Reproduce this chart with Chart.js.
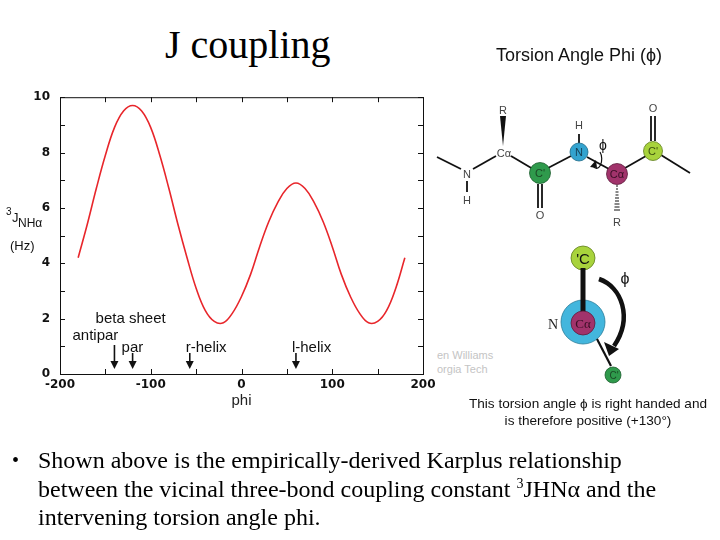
<!DOCTYPE html>
<html>
<head>
<meta charset="utf-8">
<script src="https://cdn.jsdelivr.net/npm/chart.js@4.4.1/dist/chart.umd.min.js"></script>
<style>
html, body { margin: 0; padding: 0; background: #fff; }
body { width: 720px; height: 540px; position: relative; overflow: hidden; font-family: "Liberation Sans", Arial, sans-serif; }
#title { position: absolute; left: 165px; top: 21px; font: 40px "Liberation Serif", "Times New Roman", serif; color: #000; white-space: nowrap; }
#chartBox { position: absolute; left: 0; top: 80px; width: 440px; height: 340px; }
#diagram { position: absolute; left: 0; top: 0; }
#bullets { position: absolute; left: 38px; top: 446px; width: 682px; font: 24px "Liberation Serif", "Times New Roman", serif; line-height: 28.5px; color: #000; white-space: nowrap; }
#bullets .dot { position: absolute; left: -26px; top: 0; font-size: 20px; }
#bullets sup { font-size: 14px; line-height: 0; vertical-align: 9px; }
.wm { position: absolute; left: 437px; font: 11px "Liberation Sans", Arial, sans-serif; color: #c4c4c4; white-space: nowrap; }
</style>
</head>
<body>
<div id="title">J coupling</div>

<div class="wm" style="top:349px">en Williams</div>
<div class="wm" style="top:363px">orgia Tech</div>

<div id="chartBox"><canvas id="karplusChart" width="440" height="340"></canvas></div>

<svg id="diagram" width="720" height="540" viewBox="0 0 720 540">
  <g font-family="Liberation Sans, Arial, sans-serif">
    <text x="579" y="61" text-anchor="middle" font-size="18" fill="#111">Torsion Angle Phi (&#981;)</text>

    <!-- backbone bonds -->
    <g stroke="#111" stroke-width="1.8" fill="none">
      <line x1="437" y1="157" x2="461" y2="169"/>
      <line x1="473" y1="169" x2="496" y2="156"/>
      <line x1="467" y1="181" x2="467" y2="192"/>
      <line x1="511" y1="156" x2="533" y2="169"/>
      <line x1="538" y1="184" x2="538" y2="208"/>
      <line x1="542" y1="184" x2="542" y2="208"/>
      <line x1="548" y1="168" x2="571" y2="156"/>
      <line x1="579" y1="134" x2="579" y2="143"/>
      <line x1="587" y1="157" x2="609" y2="169"/>
      <line x1="625" y1="168" x2="646" y2="156"/>
      <line x1="651" y1="116" x2="651" y2="141"/>
      <line x1="655" y1="116" x2="655" y2="141"/>
      <line x1="661" y1="155" x2="690" y2="173"/>
    </g>
    <polygon points="503,146 500,116 506,116" fill="#111"/>
    <g stroke="#111" stroke-width="1">
      <line x1="616" y1="186" x2="618" y2="186"/>
      <line x1="616" y1="189" x2="618" y2="189"/>
      <line x1="615.5" y1="192" x2="618.5" y2="192"/>
      <line x1="615.5" y1="195" x2="618.5" y2="195"/>
      <line x1="615" y1="198" x2="619" y2="198"/>
      <line x1="615" y1="201" x2="619" y2="201"/>
      <line x1="614.5" y1="204" x2="619.5" y2="204"/>
      <line x1="614.5" y1="207" x2="619.5" y2="207"/>
      <line x1="614" y1="210" x2="620" y2="210"/>
    </g>
    <!-- rotation marker around N-Ca bond -->
    <path d="M600,152 A5,9 0 1,1 593,166" stroke="#111" stroke-width="1.2" fill="none"/>
    <polygon points="590,167 596,160 597,168" fill="#111"/>

    <!-- atoms -->
    <circle cx="540" cy="173" r="10.5" fill="#2f9a4c" stroke="#1d5e2e" stroke-width="0.8"/>
    <circle cx="579" cy="152" r="9" fill="#33a3cf" stroke="#1c6a88" stroke-width="0.8"/>
    <circle cx="617" cy="174" r="10.5" fill="#a1336b" stroke="#5e1d3e" stroke-width="0.8"/>
    <circle cx="653" cy="151" r="9.5" fill="#a8d33c" stroke="#5f7e1e" stroke-width="0.8"/>

    <g font-size="11" fill="#444" text-anchor="middle">
      <text x="467" y="178">N</text>
      <text x="467" y="204">H</text>
      <text x="504" y="157">C&#945;</text>
      <text x="503" y="114">R</text>
      <text x="540" y="219">O</text>
      <text x="579" y="129">H</text>
      <text x="617" y="226">R</text>
      <text x="653" y="112">O</text>
      <text x="540" y="177" fill="#1b4a26">C'</text>
      <text x="579" y="156" fill="#163f55">N</text>
      <text x="617" y="178" fill="#3b0f26">C&#945;</text>
      <text x="653" y="155" fill="#3c5010">C'</text>
    </g>
    <text x="603" y="150" font-size="14" text-anchor="middle" fill="#111">&#981;</text>

    <!-- Newman projection -->
    <circle cx="583" cy="258" r="12" fill="#a8d33c" stroke="#5f7e1e" stroke-width="0.8"/>
    <text x="583" y="264" font-size="15" text-anchor="middle" fill="#111">'C</text>
    <circle cx="583" cy="322" r="22" fill="#43b6dd" stroke="#2a7c99" stroke-width="0.8"/>
    <line x1="583" y1="268" x2="583" y2="316" stroke="#111" stroke-width="5"/>
    <circle cx="583" cy="323" r="12" fill="#a1336b" stroke="#5e1d3e" stroke-width="0.8"/>
    <text x="583" y="328" font-size="13" text-anchor="middle" fill="#3b0f26" font-family="Liberation Serif, serif">C&#945;</text>
    <text x="553" y="329" font-size="14" text-anchor="middle" fill="#222" font-family="Liberation Serif, serif">N</text>
    <line x1="597" y1="339" x2="611" y2="366" stroke="#111" stroke-width="2.2"/>
    <circle cx="613" cy="375" r="8" fill="#2f9a4c" stroke="#1d5e2e" stroke-width="0.8"/>
    <text x="614" y="379" font-size="10" text-anchor="middle" fill="#1b4a26">C'</text>
    <path d="M599,279 C622,287 633,318 614,346" stroke="#111" stroke-width="4.5" fill="none"/>
    <polygon points="609,356 604,342 619,349" fill="#111"/>
    <text x="625" y="284" font-size="16" text-anchor="middle" fill="#111">&#981;</text>

    <g font-size="13.6" fill="#111" text-anchor="middle">
      <text x="588" y="408">This torsion angle &#981; is right handed and</text>
      <text x="588" y="425">is therefore positive (+130&#176;)</text>
    </g>
  </g>
</svg>

<div id="bullets">
  <span class="dot">&#8226;</span>Shown above is the empirically-derived Karplus relationship<br>
  between the vicinal three-bond coupling constant <sup>3</sup>JHN&#945; and the<br>
  intervening torsion angle phi.
</div>

<script>
// Karplus curve (phi in degrees, coupling in Hz)
const phiValues = [-180, -170, -160, -150, -140, -130, -120, -110, -100, -90,
                   -80, -70, -60, -50, -40, -30, -20, -10, 0, 10,
                   20, 30, 40, 50, 60, 70, 80, 90, 100, 110,
                   120, 130, 140, 150, 160, 170, 180];
const couplingValues = [4.2, 5.4, 6.7, 7.9, 8.9, 9.5, 9.7, 9.5, 8.9, 7.9,
                        6.7, 5.4, 4.2, 3.1, 2.3, 1.9, 1.85, 2.2, 2.8, 3.6,
                        4.6, 5.5, 6.2, 6.7, 6.9, 6.7, 6.2, 5.5, 4.6, 3.6,
                        2.8, 2.2, 1.85, 1.9, 2.3, 3.1, 4.2];

// secondary structure markers along phi
const markerNames = ['antipar', 'par', 'r-helix', 'l-helix'];
const markerPhi = [-140, -120, -57, 60];
const groupLabel = 'beta sheet';

// axis ticks
const xTickLabels = [-200, -100, 0, 100, 200];
const yTickLabels = [0, 2, 4, 6, 8, 10];

const tickFont = { family: '"DejaVu Sans", sans-serif', size: 12, weight: 'bold' };

// box frame with inward ticks on all four sides
const framePlugin = {
    id: 'frame',
    beforeDatasetsDraw(chart) {
        const { ctx, chartArea: a, scales } = chart;
        ctx.save();
        ctx.strokeStyle = '#111';
        ctx.lineWidth = 1;
        ctx.strokeRect(a.left + 0.5, a.top + 0.5, a.right - a.left, a.bottom - a.top);
        ctx.beginPath();
        scales.x.ticks.forEach(t => {
            const x = Math.round(scales.x.getPixelForValue(t.value)) + 0.5;
            ctx.moveTo(x, a.bottom); ctx.lineTo(x, a.bottom - 5);
            ctx.moveTo(x, a.top); ctx.lineTo(x, a.top + 5);
        });
        scales.y.ticks.forEach(t => {
            const y = Math.round(scales.y.getPixelForValue(t.value)) + 0.5;
            ctx.moveTo(a.left, y); ctx.lineTo(a.left + 5, y);
            ctx.moveTo(a.right, y); ctx.lineTo(a.right - 5, y);
        });
        ctx.stroke();
        ctx.restore();
    },
    afterDraw(chart) {
        const { ctx, scales } = chart;
        ctx.save();
        ctx.fillStyle = '#111';
        ctx.strokeStyle = '#111';

        // arrows pointing down to the phi axis
        const tipY = scales.y.getPixelForValue(0) - 5;
        markerPhi.forEach((p, i) => {
            const x = scales.x.getPixelForValue(p);
            const len = i === 0 ? 24 : 16;
            ctx.lineWidth = 1.6;
            ctx.beginPath();
            ctx.moveTo(x, tipY - len);
            ctx.lineTo(x, tipY - 6);
            ctx.stroke();
            ctx.beginPath();
            ctx.moveTo(x - 4, tipY - 8);
            ctx.lineTo(x + 4, tipY - 8);
            ctx.lineTo(x, tipY);
            ctx.closePath();
            ctx.fill();
        });

        ctx.font = '15px "Liberation Sans", Arial, sans-serif';
        ctx.textBaseline = 'middle';
        ctx.textAlign = 'left';
        const px = markerPhi.map(p => scales.x.getPixelForValue(p));
        ctx.fillText(groupLabel, px[1] - 37, tipY - 50);
        ctx.fillText(markerNames[0], px[0] - 42, tipY - 33);
        ctx.fillText(markerNames[1], px[1] - 11, tipY - 21);
        ctx.fillText(markerNames[2], px[2] - 4, tipY - 21);
        ctx.fillText(markerNames[3], px[3] - 4, tipY - 21);

        // y-axis title  3J NH alpha (Hz)
        ctx.textBaseline = 'alphabetic';
        ctx.font = '10px "Liberation Sans", Arial, sans-serif';
        ctx.fillText('3', 6, 135);
        ctx.font = '13px "Liberation Sans", Arial, sans-serif';
        ctx.fillText('J', 12, 142);
        ctx.font = '12px "Liberation Sans", Arial, sans-serif';
        ctx.fillText('NH\u03b1', 18, 147);
        ctx.font = '13px "Liberation Sans", Arial, sans-serif';
        ctx.fillText('(Hz)', 10, 170);
        ctx.restore();
    }
};

new Chart(document.getElementById('karplusChart'), {
    type: 'line',
    data: {
        datasets: [{
            data: phiValues.map((p, i) => ({ x: p, y: couplingValues[i] })),
            borderColor: '#e8262b',
            borderWidth: 1.6,
            pointRadius: 0,
            tension: 0.4,
            fill: false
        }]
    },
    options: {
        responsive: false,
        animation: false,
        layout: { padding: { top: 16, right: 17, left: 0, bottom: 0 } },
        plugins: { legend: { display: false }, tooltip: { enabled: false } },
        scales: {
            x: {
                type: 'linear',
                min: -200,
                max: 200,
                grid: { display: false, drawTicks: false },
                border: { display: false },
                ticks: {
                    stepSize: 50,
                    autoSkip: false,
                    maxRotation: 0,
                    padding: 4,
                    color: '#111',
                    font: tickFont,
                    callback: v => xTickLabels.includes(v) ? String(v) : ''
                },
                title: {
                    display: true,
                    text: 'phi',
                    color: '#222',
                    font: { family: '"Liberation Sans", Arial, sans-serif', size: 15 },
                    padding: { top: 0, bottom: 10 }
                },
                afterFit: s => { s.height = 46; }
            },
            y: {
                min: 0,
                max: 10,
                grid: { display: false, drawTicks: false },
                border: { display: false },
                ticks: {
                    stepSize: 1,
                    autoSkip: false,
                    padding: 10,
                    color: '#111',
                    font: tickFont,
                    callback: v => yTickLabels.includes(v) ? String(v) : ''
                },
                afterFit: s => { s.width = 60; }
            }
        }
    },
    plugins: [framePlugin]
});
</script>
</body>
</html>
